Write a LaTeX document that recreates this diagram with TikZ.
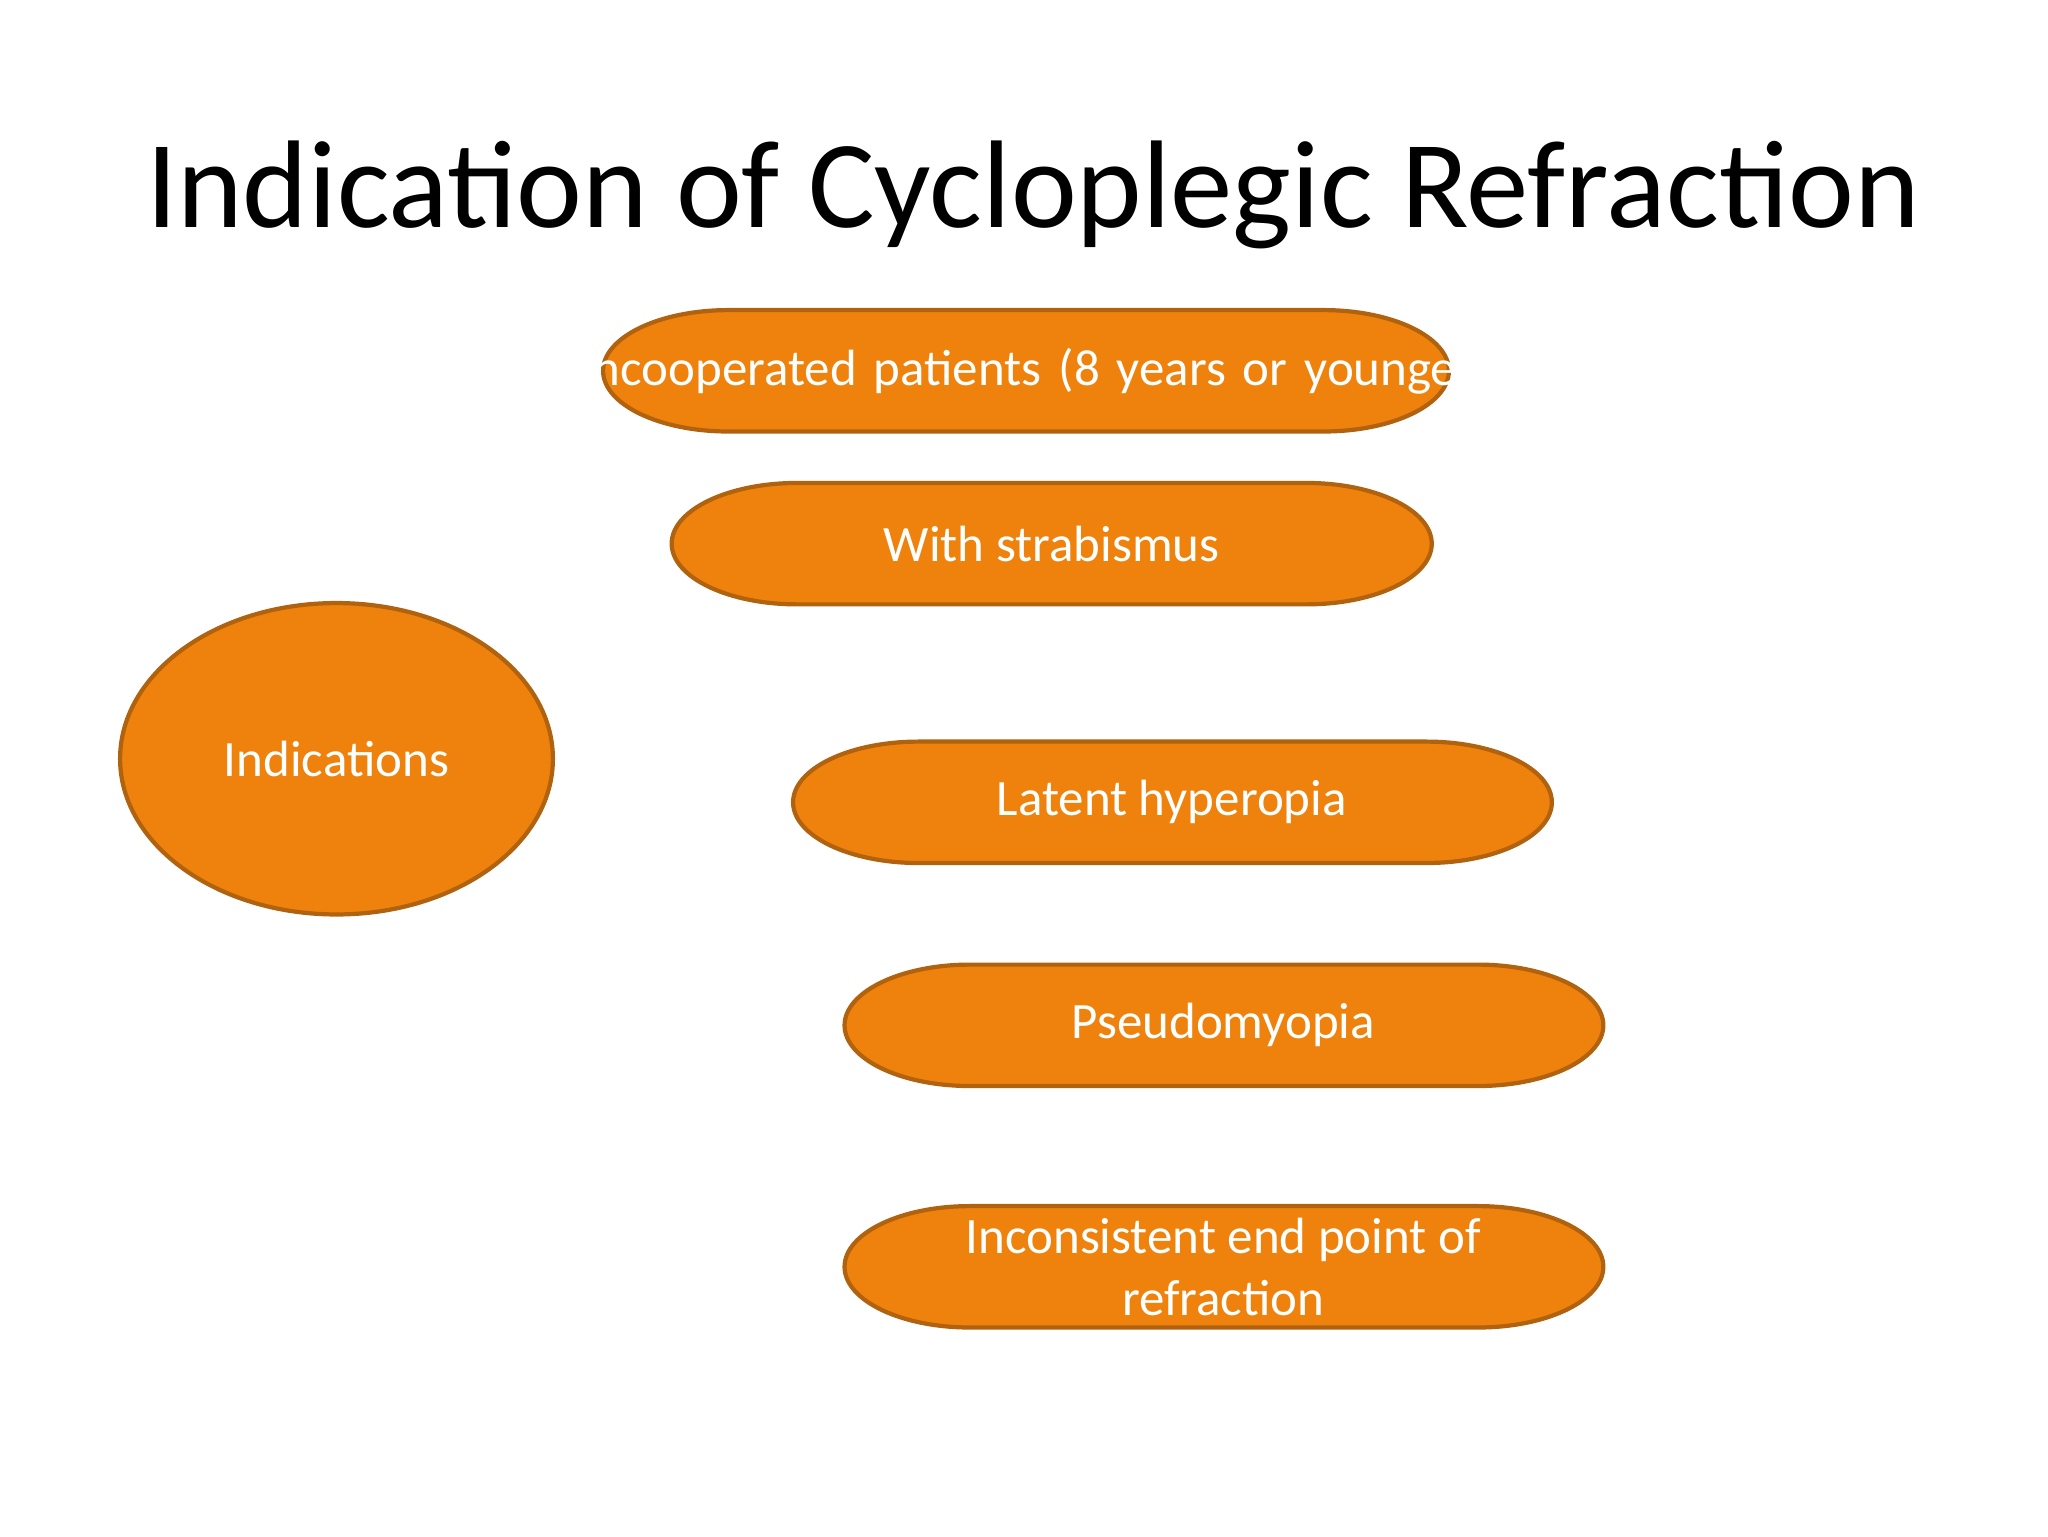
\documentclass[tikz,border=0pt]{standalone}
\usepackage{fontspec}
\setmainfont{Carlito}
\definecolor{org}{HTML}{EF820D}
\definecolor{orgd}{HTML}{B0620F}
\tikzset{
  sh/.style={fill=org,draw=orgd,line width=1.2pt},
  lbl/.style={text=white,font=\fontsize{14.5}{17.5}\selectfont,align=center}
}
\newcommand{\stad}[3]{%
 \path[sh] (#1+95,#3+46) -- (#2-95,#3+46) arc[start angle=90,end angle=-90,x radius=95,y radius=46] -- (#1+95,#3-46) arc[start angle=270,end angle=90,x radius=95,y radius=46] -- cycle;}
\begin{document}
\begin{tikzpicture}[x=0.0132cm,y=0.0132cm]
\useasboundingbox (0,0) rectangle (1552,1164);
\node[font=\fontsize{35.5}{40}\selectfont] (title) at (783,1016) {Indication of Cycloplegic Refraction};
\path[sh] (255,589) ellipse [x radius=164,y radius=118];
\node[lbl] (ind) at (255,589) {Indications};
\stad{457}{1098}{883}
\node[lbl,text width=11cm] (a) at (777,883) {Uncooperated patients (8 years or younger)};
\stad{509}{1085}{752}
\node[lbl] (b) at (797,752) {With strabismus};
\stad{601}{1176}{556}
\node[lbl] (c) at (888,556) {Latent hyperopia};
\stad{640}{1215}{387}
\node[lbl] (d) at (927,387) {Pseudomyopia};
\stad{640}{1215}{204}
\node[lbl] (e) at (927,204) {Inconsistent end point of\\refraction};
\end{tikzpicture}
\end{document}
